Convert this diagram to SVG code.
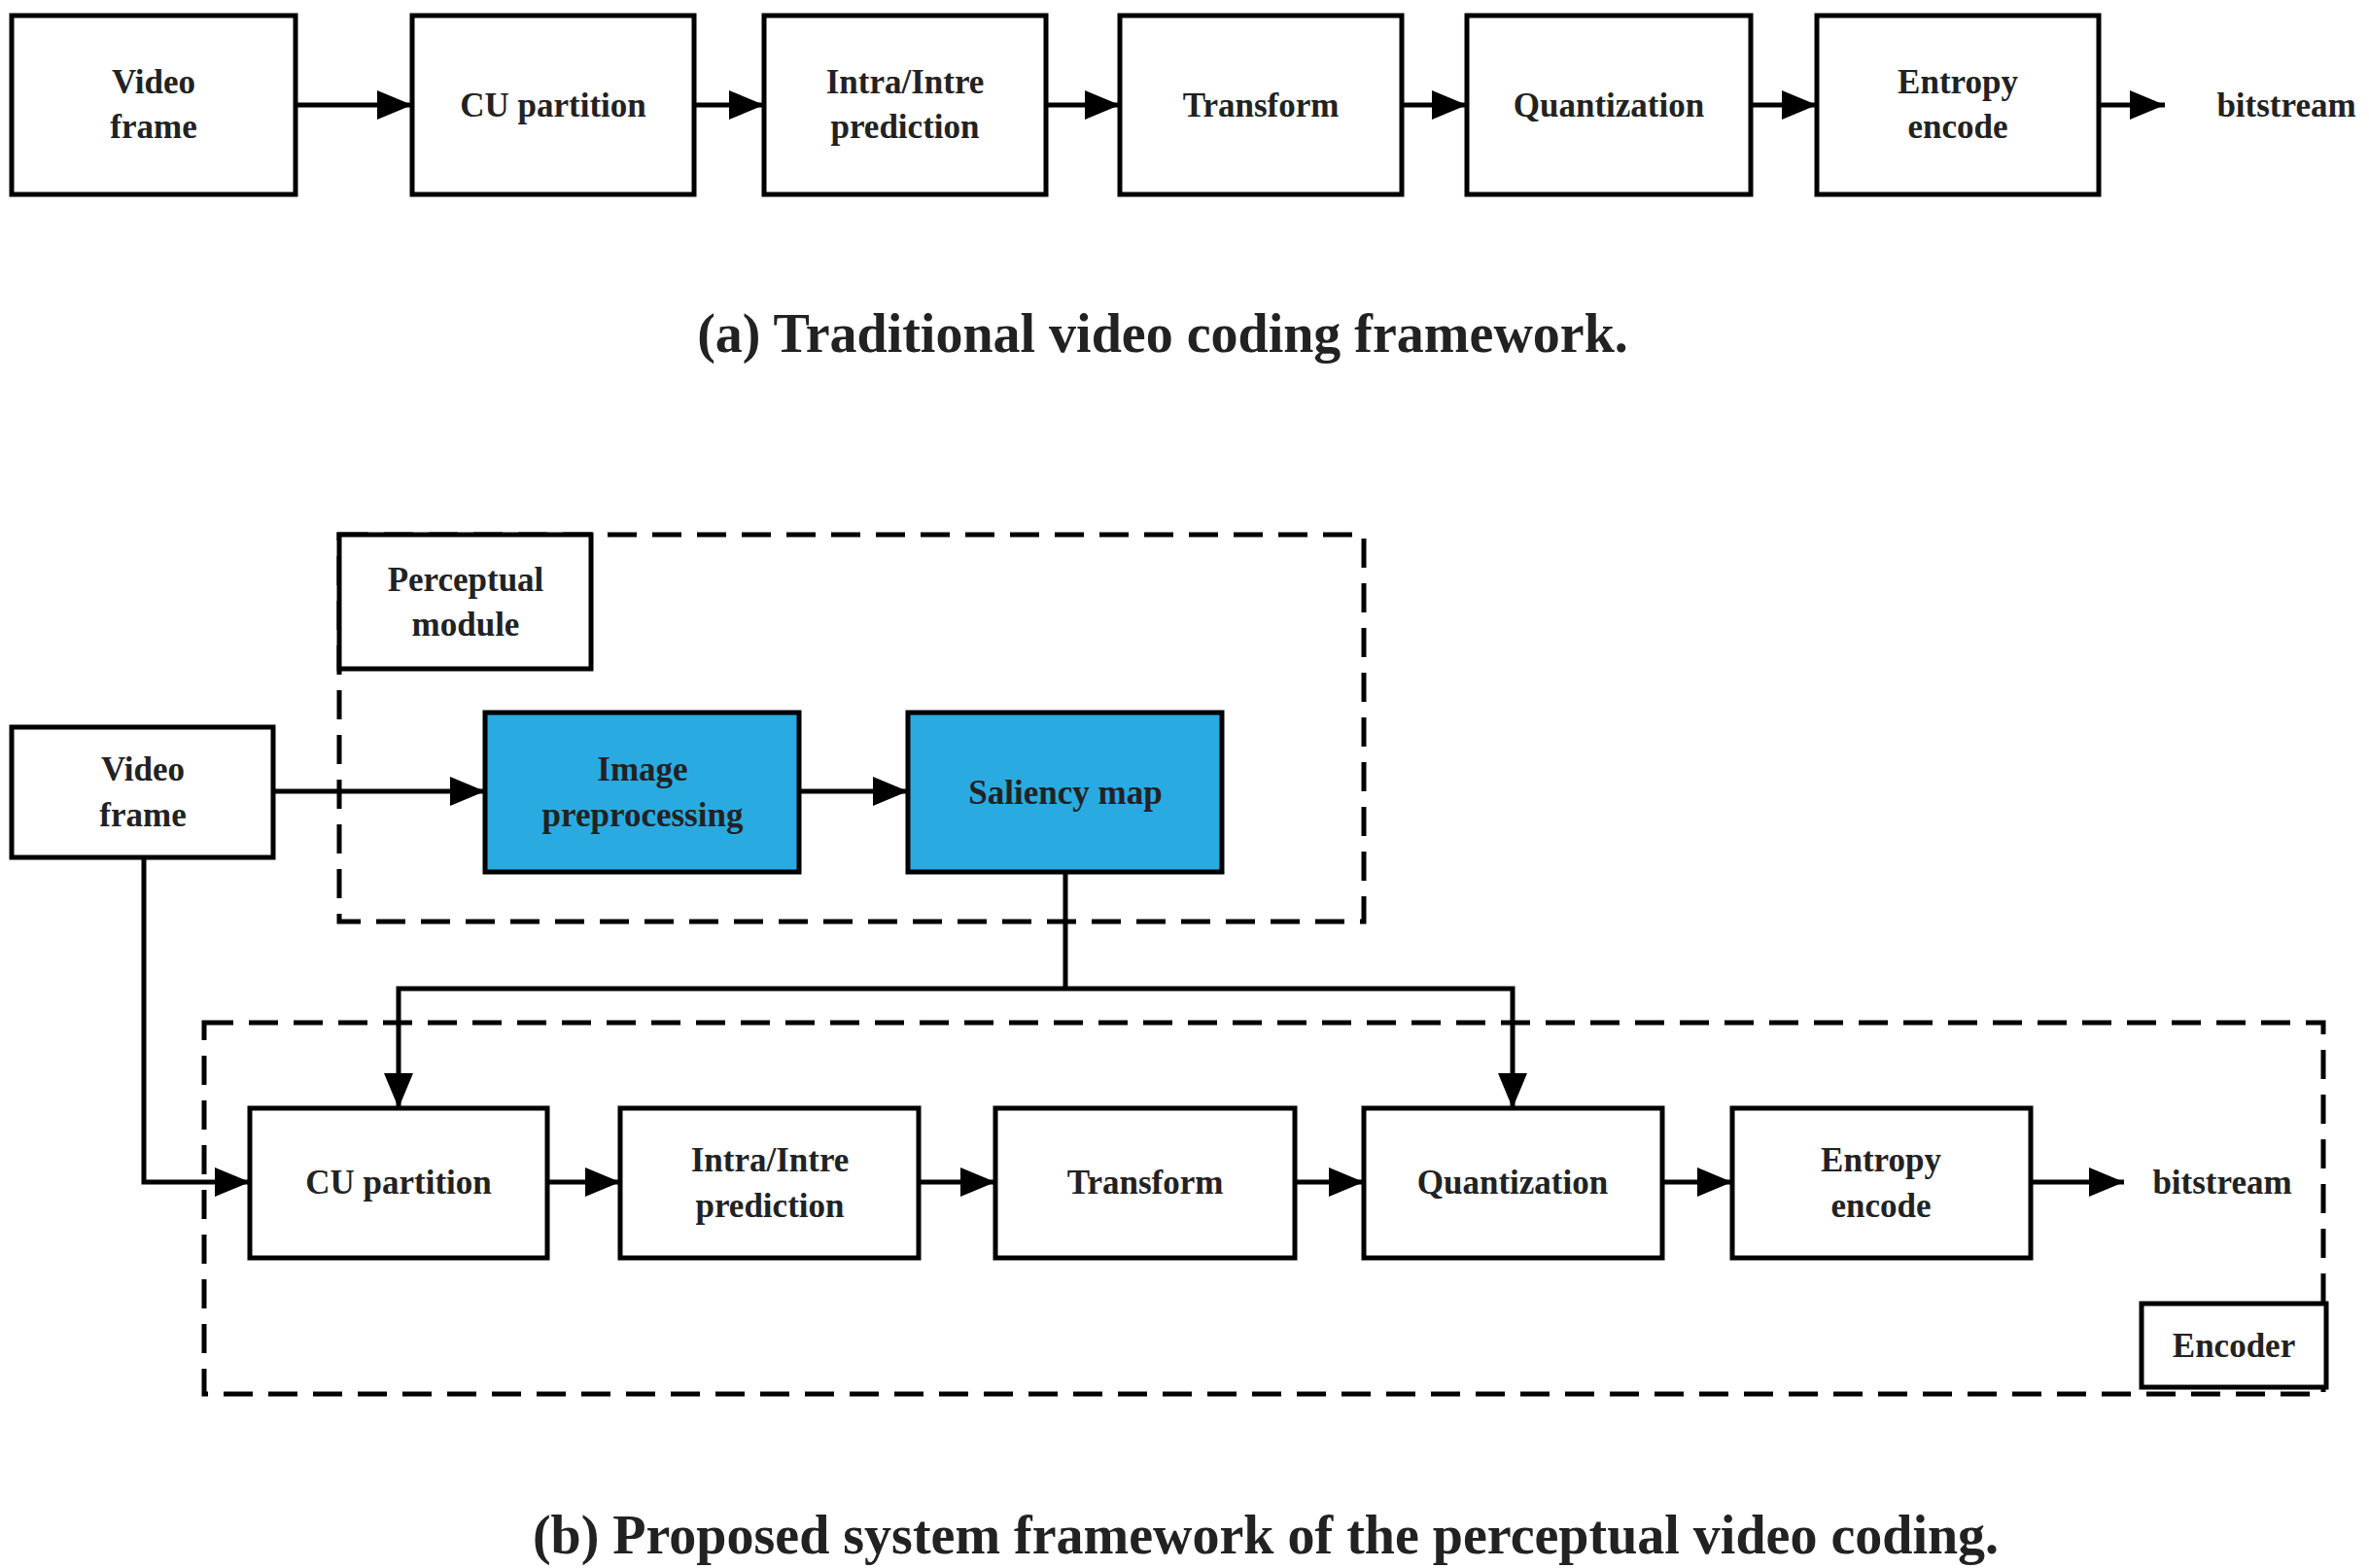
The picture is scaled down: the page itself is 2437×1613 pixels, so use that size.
<svg xmlns="http://www.w3.org/2000/svg" width="2437" height="1613" viewBox="0 0 2437 1613">
<defs>
<marker id="ah" markerWidth="8" markerHeight="8" refX="7" refY="4" orient="auto" markerUnits="userSpaceOnUse" viewBox="0 0 8 8"><path d="M0,0 L8,4 L0,8 z" fill="#000"/></marker>
<style>
.b{fill:#fff;stroke:#000;stroke-width:5}
.bl{fill:#29abe2;stroke:#000;stroke-width:5}
.d{fill:none;stroke:#000;stroke-width:5;stroke-dasharray:30,16}
.c{fill:none;stroke:#000;stroke-width:5}
.t{font-family:"Liberation Serif",serif;font-weight:bold;font-size:35px;fill:#222;text-anchor:middle}
.cap{font-family:"Liberation Serif",serif;font-weight:bold;font-size:56px;fill:#222;text-anchor:middle}
</style>
<marker id="a" markerWidth="36" markerHeight="30" refX="36" refY="15" orient="auto" markerUnits="userSpaceOnUse"><path d="M0,0 L36,15 L0,30 z" fill="#000"/></marker>
</defs>
<rect width="2437" height="1613" fill="#fff"/>
<g id="containers">
<rect class="d" x="349" y="550" width="1054" height="398"/>
<rect class="d" x="210" y="1052" width="2180" height="382"/>
</g>
<g id="connectors">
<line class="c" x1="304" y1="108" x2="424" y2="108" marker-end="url(#a)"/>
<line class="c" x1="714" y1="108" x2="786" y2="108" marker-end="url(#a)"/>
<line class="c" x1="1076" y1="108" x2="1152" y2="108" marker-end="url(#a)"/>
<line class="c" x1="1442" y1="108" x2="1509" y2="108" marker-end="url(#a)"/>
<line class="c" x1="1801" y1="108" x2="1869" y2="108" marker-end="url(#a)"/>
<line class="c" x1="2159" y1="108" x2="2227" y2="108" marker-end="url(#a)"/>
<line class="c" x1="281" y1="814" x2="499" y2="814" marker-end="url(#a)"/>
<line class="c" x1="822" y1="814" x2="934" y2="814" marker-end="url(#a)"/>
<polyline class="c" points="1096,897 1096,1017"/>
<polyline class="c" points="1096,1017 410,1017 410,1140" marker-end="url(#a)"/>
<polyline class="c" points="1096,1017 1556,1017 1556,1140" marker-end="url(#a)"/>
<polyline class="c" points="148,882 148,1216 257,1216" marker-end="url(#a)"/>
<line class="c" x1="563" y1="1216" x2="638" y2="1216" marker-end="url(#a)"/>
<line class="c" x1="945" y1="1216" x2="1024" y2="1216" marker-end="url(#a)"/>
<line class="c" x1="1332" y1="1216" x2="1403" y2="1216" marker-end="url(#a)"/>
<line class="c" x1="1710" y1="1216" x2="1782" y2="1216" marker-end="url(#a)"/>
<line class="c" x1="2089" y1="1216" x2="2185" y2="1216" marker-end="url(#a)"/>
</g>
<g id="a1"><rect class="b" x="12" y="16" width="292" height="184"/><text class="t" x="158" y="96">Video</text><text class="t" x="158" y="142">frame</text></g>
<g id="a2"><rect class="b" x="424" y="16" width="290" height="184"/><text class="t" x="569" y="120">CU partition</text></g>
<g id="a3"><rect class="b" x="786" y="16" width="290" height="184"/><text class="t" x="931" y="96">Intra/Intre</text><text class="t" x="931" y="142">prediction</text></g>
<g id="a4"><rect class="b" x="1152" y="16" width="290" height="184"/><text class="t" x="1297" y="120">Transform</text></g>
<g id="a5"><rect class="b" x="1509" y="16" width="292" height="184"/><text class="t" x="1655" y="120">Quantization</text></g>
<g id="a6"><rect class="b" x="1869" y="16" width="290" height="184"/><text class="t" x="2014" y="96">Entropy</text><text class="t" x="2014" y="142">encode</text></g>
<g id="a7"><text class="t" x="2352" y="120">bitstream</text></g>
<text class="cap" x="1196" y="362">(a) Traditional video coding framework.</text>
<g id="pm"><rect class="b" x="349" y="550" width="259" height="138"/><text class="t" x="479" y="608">Perceptual</text><text class="t" x="479" y="654">module</text></g>
<g id="b0"><rect class="b" x="12" y="748" width="269" height="134"/><text class="t" x="147" y="803">Video</text><text class="t" x="147" y="850">frame</text></g>
<g id="ip"><rect class="bl" x="499" y="733" width="323" height="164"/><text class="t" x="661" y="803">Image</text><text class="t" x="661" y="850">preprocessing</text></g>
<g id="sm"><rect class="bl" x="934" y="733" width="323" height="164"/><text class="t" x="1096" y="827">Saliency map</text></g>
<g id="b1"><rect class="b" x="257" y="1140" width="306" height="154"/><text class="t" x="410" y="1228">CU partition</text></g>
<g id="b2"><rect class="b" x="638" y="1140" width="307" height="154"/><text class="t" x="792" y="1205">Intra/Intre</text><text class="t" x="792" y="1252">prediction</text></g>
<g id="b3"><rect class="b" x="1024" y="1140" width="308" height="154"/><text class="t" x="1178" y="1228">Transform</text></g>
<g id="b4"><rect class="b" x="1403" y="1140" width="307" height="154"/><text class="t" x="1556" y="1228">Quantization</text></g>
<g id="b5"><rect class="b" x="1782" y="1140" width="307" height="154"/><text class="t" x="1935" y="1205">Entropy</text><text class="t" x="1935" y="1252">encode</text></g>
<g id="b6"><text class="t" x="2286" y="1228">bitstream</text></g>
<g id="enc"><rect class="b" x="2203" y="1341" width="190" height="86"/><text class="t" x="2298" y="1396">Encoder</text></g>
<text class="cap" x="1302" y="1598">(b) Proposed system framework of the perceptual video coding.</text>
</svg>
